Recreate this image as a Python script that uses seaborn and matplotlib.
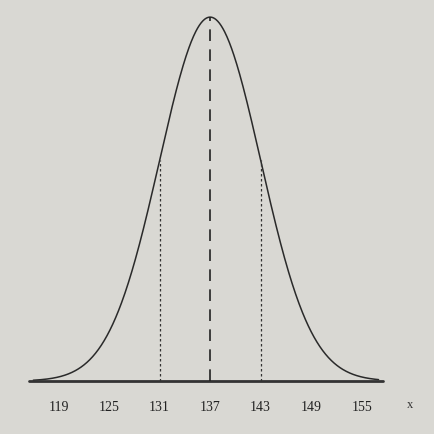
import numpy as np
import matplotlib
matplotlib.use("Agg")
import matplotlib.pyplot as plt
import seaborn as sns
import pandas as pd

mu = 137
sigma = 6
tick_values = [119, 125, 131, 137, 143, 149, 155]
tick_labels = ["119", "125", "131", "137", "143", "149", "155"]

sns.set_style("white")
plt.rcParams['font.family'] = ['Liberation Serif', 'DejaVu Serif']

x = np.linspace(116, 157, 600)
y = np.exp(-0.5 * ((x - mu) / sigma) ** 2) / (sigma * np.sqrt(2 * np.pi))
df = pd.DataFrame({"x": x, "y": y})

fig = plt.figure(figsize=(4.35, 4.35), dpi=100, facecolor="#d9d8d3")
ax = fig.add_axes([0, 0, 1, 1])
ax.set_facecolor("#d9d8d3")
sns.lineplot(data=df, x="x", y="y", ax=ax, color="#2a2a2a", lw=1.1)

peak = 1 / (sigma * np.sqrt(2 * np.pi))
ax.plot([115.5, 157.5], [0, 0], color="#333333", lw=2)
ax.plot([mu, mu], [0, peak], color="#222222", lw=1.2, dashes=(7, 5))
for v in (mu - sigma, mu + sigma):
    h = np.exp(-0.5) * peak
    ax.plot([v, v], [0, h], color="#333333", lw=0.9, ls=(0, (2, 2)))

for v, lab in zip(tick_values, tick_labels):
    ax.text(v, -0.0047, lab, ha="center", va="center", fontsize=10, color="#222222")
ax.text(160.7, -0.0042, "x", ha="center", va="center", fontsize=9, color="#333333")

ax.set_xlim(112.05, 163.7)
ax.set_ylim(-0.00968, 0.0698)
ax.axis("off")
fig.savefig("out.png", dpi=100, facecolor=fig.get_facecolor())
